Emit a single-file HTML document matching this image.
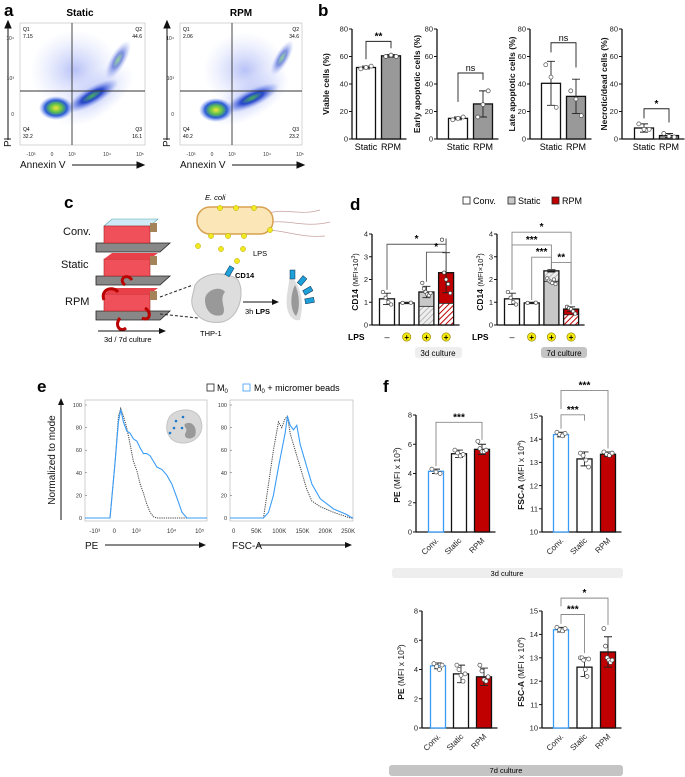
<!DOCTYPE html>
<html><head><meta charset="utf-8">
<style>
html,body{margin:0;padding:0;background:#fff;}
svg{display:block;font-family:"Liberation Sans",Arial,sans-serif;}
.pl{font-weight:bold;font-size:17px;}
.tk{font-size:7.5px;fill:#222;}
.ax{font-size:8.5px;font-weight:bold;fill:#111;}
.lb{font-size:10px;fill:#111;}
</style></head>
<body>
<svg id="fig" width="685" height="777" viewBox="0 0 685 777" xmlns="http://www.w3.org/2000/svg">
<defs>
<pattern id="hatchGray" patternUnits="userSpaceOnUse" width="4" height="4" patternTransform="rotate(45)"><rect width="4" height="4" fill="#eee"/><line x1="0" y1="0" x2="0" y2="4" stroke="#aaa" stroke-width="1.6"/></pattern>
<pattern id="hatchRed" patternUnits="userSpaceOnUse" width="4" height="4" patternTransform="rotate(45)"><rect width="4" height="4" fill="#fff"/><line x1="0" y1="0" x2="0" y2="4" stroke="#c00000" stroke-width="2"/></pattern>
<radialGradient id="blob" cx="50%" cy="50%" r="50%"><stop offset="0" stop-color="#f4e83a"/><stop offset="0.35" stop-color="#5fc24a"/><stop offset="0.65" stop-color="#2a5bd8"/><stop offset="1" stop-color="#6f8cf0" stop-opacity="0"/></radialGradient>
<radialGradient id="band" cx="50%" cy="50%" r="50%"><stop offset="0" stop-color="#49b05a"/><stop offset="0.4" stop-color="#2846cc"/><stop offset="1" stop-color="#8aa0f5" stop-opacity="0"/></radialGradient>
<radialGradient id="cloud" cx="50%" cy="50%" r="50%"><stop offset="0" stop-color="#7d8ff0" stop-opacity="0.55"/><stop offset="1" stop-color="#b8c4fa" stop-opacity="0"/></radialGradient>
</defs>

<!-- panel labels -->
<text class="pl" x="4" y="16">a</text>
<text class="pl" x="318" y="16">b</text>
<text class="pl" x="64" y="208">c</text>
<text class="pl" x="350" y="210">d</text>
<text class="pl" x="37" y="392">e</text>
<text class="pl" x="383" y="392">f</text>

<!-- panel a flow plots -->
<g>
  <text x="80" y="16" text-anchor="middle" style="font-size:10px;font-weight:bold">Static</text>
  <rect x="20" y="23" width="125" height="122" fill="#fff" stroke="#bbb" stroke-width="0.6"/>
  <ellipse cx="75" cy="70" rx="45" ry="40" fill="url(#cloud)"/>
  <ellipse cx="95" cy="95" rx="45" ry="22" fill="url(#cloud)" transform="rotate(-35 95 95)"/>
  <ellipse cx="118" cy="60" rx="22" ry="8" fill="url(#band)" opacity="0.6" transform="rotate(-60 118 60)"/>
  <ellipse cx="92" cy="96" rx="30" ry="9" fill="url(#band)" transform="rotate(-30 92 96)"/>
  <ellipse cx="56" cy="108" rx="17" ry="12" fill="url(#blob)"/>
  <line x1="72" y1="23" x2="72" y2="145" stroke="#333" stroke-width="0.9"/>
  <line x1="20" y1="91" x2="145" y2="91" stroke="#333" stroke-width="0.9"/>
  <text x="23" y="31" style="font-size:5px">Q1</text><text x="23" y="38" style="font-size:5px">7.15</text>
  <text x="142" y="31" text-anchor="end" style="font-size:5px">Q2</text><text x="142" y="38" text-anchor="end" style="font-size:5px">44.6</text>
  <text x="23" y="131" style="font-size:5px">Q4</text><text x="23" y="138" style="font-size:5px">32.2</text>
  <text x="142" y="131" text-anchor="end" style="font-size:5px">Q3</text><text x="142" y="138" text-anchor="end" style="font-size:5px">16.1</text>
</g>
<g>
  <text x="241" y="16" text-anchor="middle" style="font-size:10px;font-weight:bold">RPM</text>
  <rect x="180" y="23" width="122" height="122" fill="#fff" stroke="#bbb" stroke-width="0.6"/>
  <ellipse cx="245" cy="70" rx="42" ry="38" fill="url(#cloud)"/>
  <ellipse cx="250" cy="98" rx="45" ry="20" fill="url(#cloud)" transform="rotate(-30 250 98)"/>
  <ellipse cx="282" cy="58" rx="20" ry="7" fill="url(#band)" opacity="0.6" transform="rotate(-60 282 58)"/>
  <ellipse cx="252" cy="98" rx="30" ry="9" fill="url(#band)" transform="rotate(-25 252 98)"/>
  <ellipse cx="216" cy="110" rx="17" ry="12" fill="url(#blob)"/>
  <line x1="232" y1="23" x2="232" y2="145" stroke="#333" stroke-width="0.9"/>
  <line x1="180" y1="91" x2="302" y2="91" stroke="#333" stroke-width="0.9"/>
  <text x="183" y="31" style="font-size:5px">Q1</text><text x="183" y="38" style="font-size:5px">2.06</text>
  <text x="299" y="31" text-anchor="end" style="font-size:5px">Q2</text><text x="299" y="38" text-anchor="end" style="font-size:5px">34.6</text>
  <text x="183" y="131" style="font-size:5px">Q4</text><text x="183" y="138" style="font-size:5px">40.2</text>
  <text x="299" y="131" text-anchor="end" style="font-size:5px">Q3</text><text x="299" y="138" text-anchor="end" style="font-size:5px">23.2</text>
</g>
<g style="font-size:5px;fill:#333">
  <text x="14" y="40" text-anchor="end">10⁴</text><text x="14" y="80" text-anchor="end">10³</text><text x="14" y="116" text-anchor="end">0</text>
  <text x="174" y="40" text-anchor="end">10⁴</text><text x="174" y="80" text-anchor="end">10³</text><text x="174" y="116" text-anchor="end">0</text>
  <text x="31" y="156" text-anchor="middle">-10³</text><text x="52" y="156" text-anchor="middle">0</text><text x="72" y="156" text-anchor="middle">10³</text><text x="107" y="156" text-anchor="middle">10⁴</text><text x="140" y="156" text-anchor="middle">10⁵</text>
  <text x="191" y="156" text-anchor="middle">-10³</text><text x="212" y="156" text-anchor="middle">0</text><text x="232" y="156" text-anchor="middle">10³</text><text x="267" y="156" text-anchor="middle">10⁴</text><text x="300" y="156" text-anchor="middle">10⁵</text>
</g>
<g stroke="#111" stroke-width="1" fill="#111">
  <line x1="8" y1="140" x2="8" y2="27"/><polygon points="8,21 5,28 11,28"/>
  <line x1="167" y1="140" x2="167" y2="27"/><polygon points="167,21 164,28 170,28"/>
  <line x1="72" y1="165" x2="138" y2="165"/><polygon points="144,165 137,162 137,168"/>
  <line x1="232" y1="165" x2="298" y2="165"/><polygon points="304,165 297,162 297,168"/>
</g>
<text x="11" y="147" transform="rotate(-90 11 147)" class="lb">PI</text>
<text x="170" y="147" transform="rotate(-90 170 147)" class="lb">PI</text>
<text x="20" y="168" class="lb">Annexin V</text>
<text x="180" y="168" class="lb">Annexin V</text>

<!-- panel c illustration -->
<g>
  <text x="63" y="235" class="lb" style="font-size:11px">Conv.</text>
  <text x="61" y="268" class="lb" style="font-size:11px">Static</text>
  <text x="65" y="305" class="lb" style="font-size:11px">RPM</text>
  <polygon points="96,243 170,243 160,252 96,252" fill="#888" stroke="#222" stroke-width="0.8"/>
  <polygon points="104,226 150,226 158,219 112,219" fill="#cfeaf6" stroke="#5aa" stroke-width="0.6"/>
  <rect x="104" y="226" width="46" height="17" fill="#f0505a" stroke="#a22" stroke-width="0.6"/>
  <rect x="150" y="223" width="7" height="9" fill="#a5835a"/>
  <polygon points="96,276 170,276 160,285 96,285" fill="#888" stroke="#222" stroke-width="0.8"/>
  <rect x="104" y="259" width="46" height="17" fill="#f0505a" stroke="#a22" stroke-width="0.6"/>
  <polygon points="104,259 150,259 158,253 112,253" fill="#e84048"/>
  <rect x="150" y="256" width="7" height="9" fill="#a5835a"/>
  <polygon points="96,311 170,311 160,320 96,320" fill="#888" stroke="#222" stroke-width="0.8"/>
  <rect x="104" y="294" width="46" height="17" fill="#f0505a" stroke="#a22" stroke-width="0.6"/>
  <polygon points="104,294 150,294 158,288 112,288" fill="#e84048"/>
  <rect x="150" y="291" width="7" height="9" fill="#a5835a"/>
  <path d="M104,300 C100,290 112,285 118,292 M145,308 C152,312 150,322 142,318 M125,285 C118,280 126,272 132,280 M120,318 C114,325 120,333 126,328" stroke="#b00" stroke-width="3" fill="none"/>
  <line x1="98" y1="331" x2="160" y2="331" stroke="#111"/><polygon points="166,331 159,328 159,334" fill="#111"/>
  <text x="104" y="342" style="font-size:7.5px">3d / 7d culture</text>
  <text x="205" y="200" style="font-size:7.5px;font-style:italic">E. coli</text>
  <path d="M270,213 C285,208 300,216 320,210 M272,222 C290,220 305,228 330,222 M270,230 C290,232 305,238 325,236" stroke="#c9a0a0" stroke-width="0.7" fill="none"/>
  <rect x="197" y="207" width="76" height="27" rx="13" fill="#fbe6b8" stroke="#d8a050" stroke-width="1.5"/>
  <g fill="#f2ea20" stroke="#b8a800" stroke-width="0.5">
    <circle cx="220" cy="208" r="2.6"/><circle cx="236" cy="208" r="2.6"/><circle cx="254" cy="208" r="2.6"/>
    <circle cx="211" cy="236" r="2.6"/><circle cx="228" cy="236" r="2.6"/><circle cx="244" cy="236" r="2.6"/><circle cx="270" cy="230" r="2.6"/>
    <circle cx="198" cy="246" r="2.6"/><circle cx="221" cy="249" r="2.6"/><circle cx="243" cy="249" r="2.6"/><circle cx="237" cy="261" r="2.6"/>
  </g>
  <text x="253" y="256" style="font-size:7.5px">LPS</text>
  <path d="M195,285 C205,270 230,272 238,280 C245,292 240,318 222,322 C200,325 190,310 192,298 Z" fill="#ddd" stroke="#bbb"/>
  <path d="M205,300 C205,290 220,285 225,292 C218,300 228,310 222,315 C212,318 205,310 205,300 Z" fill="#999"/>
  <rect x="227" y="266" width="5" height="10" fill="#1ea0d8" stroke="#135" stroke-width="0.5" transform="rotate(30 229 271)"/>
  <text x="235" y="278" style="font-size:7.5px;font-weight:bold">CD14</text>
  <line x1="160" y1="297" x2="193" y2="285" stroke="#222" stroke-dasharray="3,2"/>
  <line x1="160" y1="314" x2="198" y2="318" stroke="#222" stroke-dasharray="3,2"/>
  <text x="200" y="336" style="font-size:7.5px">THP-1</text>
  <line x1="243" y1="302" x2="272" y2="302" stroke="#111"/><polygon points="279,302 272,299 272,305" fill="#111"/>
  <text x="245" y="314" style="font-size:7.5px">3h <tspan font-weight="bold">LPS</tspan></text>
  <path d="M290,275 C300,285 305,300 300,320 C290,322 285,310 287,295 Z" fill="#ddd"/>
  <path d="M295,285 C300,295 300,310 296,316 C290,310 290,295 295,285 Z" fill="#999"/>
  <g fill="#1ea0d8" stroke="#135" stroke-width="0.5"><rect x="290" y="270" width="5" height="9"/><rect x="300" y="276" width="5" height="9" transform="rotate(40 302 280)"/><rect x="306" y="286" width="5" height="9" transform="rotate(60 308 290)"/><rect x="308" y="296" width="5" height="9" transform="rotate(80 310 300)"/></g>
</g>

<!-- legend d -->
<g style="font-size:9px">
  <rect x="463" y="197" width="7" height="7" fill="#fff" stroke="#222" stroke-width="0.8"/><text x="473" y="204">Conv.</text>
  <rect x="508" y="197" width="7" height="7" fill="#c8c8c8" stroke="#222" stroke-width="0.8"/><text x="518" y="204">Static</text>
  <rect x="552" y="197" width="7" height="7" fill="#c00000" stroke="#222" stroke-width="0.8"/><text x="562" y="204">RPM</text>
</g>
<rect x="415" y="347" width="47" height="11" rx="3" fill="#eee"/>
<text x="438" y="356" text-anchor="middle" style="font-size:8px">3d culture</text>
<rect x="541" y="347" width="46" height="11" rx="3" fill="#c4c4c4"/>
<text x="564" y="356" text-anchor="middle" style="font-size:8px">7d culture</text>

<!-- panel e legend -->
<g style="font-size:9px">
  <rect x="207" y="384" width="7" height="7" fill="#fff" stroke="#222" stroke-width="0.8"/><text x="217" y="391">M<tspan font-size="6" dy="2">0</tspan></text>
  <rect x="243" y="384" width="7" height="7" fill="#fff" stroke="#3a9cf6" stroke-width="0.8"/><text x="254" y="391">M<tspan font-size="6" dy="2">0</tspan><tspan dy="-2"> + micromer beads</tspan></text>
</g>

<!-- panel f culture tags -->
<rect x="392" y="568" width="231" height="10" rx="3" fill="#eee"/>
<text x="507" y="576" text-anchor="middle" style="font-size:7.5px">3d culture</text>
<rect x="389" y="765" width="234" height="11" rx="3" fill="#c4c4c4"/>
<text x="506" y="773" text-anchor="middle" style="font-size:7.5px">7d culture</text>
</svg>

<script>
// ---------- DATA ----------
// panel b
const bCategories = ['Static','RPM'];
const viableMean = [52, 60.5];
const viableSD = [1, 1];
const viablePts = [[51,52,53],[60,61,60]];
const earlyMean = [15, 25.5];
const earlySD = [1, 9.5];
const earlyPts = [[14,15,16],[16,25,35]];
const lateMean = [40.5, 31];
const lateSD = [16, 12.5];
const latePts = [[54,45,23],[35,29,17]];
const necroMean = [8, 2.5];
const necroSD = [3, 1.5];
const necroPts = [[11,7,7],[4,2,1.5]];
const bTicks = [0,20,40,60,80];
// panel d
const dLPS = ['–','+','+','+'];
const d3Mean = [1.15, 0.97, 1.45, 2.3];
const d3Split = [0, 0, 0.82, 0.95];
const d3SD = [0.25, 0.03, 0.25, 0.88];
const d3Pts = [[1.45,1.2,1.0,0.9],[0.97,0.98],[1.85,1.6,1.45,1.35,1.3,1.4],[3.75,2.3,2.0,1.8,1.4]];
const d7Mean = [1.15, 0.97, 2.38, 0.7];
const d7Split = [0, 0, 1.92, 0.45];
const d7SD = [0.25, 0.03, 0.05, 0.1];
const d7Pts = [[1.45,1.2,1.0,0.9],[0.97,0.98],[2.05,1.95,1.9,1.85,2.0,1.8],[0.8,0.75,0.7,0.6,0.5]];
const dTicks = [0,1,2,3,4];
// panel e histograms (channel 0-100 across plot, % of mode)
const peChan  = [0,20.5,24.7,27.4,29.3,31.5,34.2,37,39.7,42.5,45.2,47.9,50.7,53.4,56.2,59,63,67,71.2,75.3,79.5,83.6,100];
const peM0    = [0,0,50,90,97,90,80,65,50,42,30,22,12,5,1,0,0,0,0,0,0,0,0];
const peBeads = [0,0,50,85,96,85,77,75,70,68,62,57,57,55,50,45,43,38,30,18,5,0,0];
const fscChan = [0,27.2,31.3,35.3,39.4,42.1,44.8,46.7,48.9,51.6,54.3,57.1,59.8,62.5,66.6,73.4,84.2,95.1,97.8,100];
const fscM0   = [0,0,30,60,85,80,88,90,75,65,55,45,35,25,15,10,5,1,0,0];
const fscBeads= [0,0,5,20,45,60,75,90,82,78,82,65,55,45,30,17,8,3,1,0];
const peTicks = ['-10³','0','10³','10⁴','10⁵'];
const fscTicks = ['0','50K','100K','150K','200K','250K'];
const histYTicks = [0,20,40,60,80,100];
// panel f
const fCategories = ['Conv.','Static','RPM'];
const fPE3Mean = [4.15, 5.35, 5.65];
const fPE3SD = [0.15, 0.25, 0.35];
const fPE3Pts = [[4.3,4.1,4.0],[5.6,5.4,5.2,5.3],[6.2,5.7,5.5,5.5,5.6]];
const fFSC3Mean = [14.2, 13.15, 13.35];
const fFSC3SD = [0.1, 0.3, 0.1];
const fFSC3Pts = [[14.3,14.2,14.15,14.25],[13.4,13.3,13.1,12.8],[13.45,13.35,13.3,13.4]];
const fPE7Mean = [4.25, 3.7, 3.5];
const fPE7SD = [0.2, 0.6, 0.6];
const fPE7Pts = [[4.4,4.2,4.0,4.3],[4.3,4.0,3.6,3.2,3.7],[4.3,3.9,3.3,3.2,3.5]];
const fFSC7Mean = [14.2, 12.6, 13.25];
const fFSC7SD = [0.1, 0.4, 0.65];
const fFSC7Pts = [[14.3,14.2,14.15,14.25],[13.0,13.0,12.9,12.5,12.2,12.95],[14.25,13.5,13.0,12.9,12.8,12.9]];
const fPETicks = [0,2,4,6,8];
const fFSCTicks = [10,11,12,13,14,15];

// ---------- DRAW ----------
const NS = 'http://www.w3.org/2000/svg';
const svg = document.getElementById('fig');
function mk(tag, a, p){const e=document.createElementNS(NS,tag);for(const k in a)e.setAttribute(k,a[k]);(p||svg).appendChild(e);return e;}

function chart(c){
  const g = mk('g',{});
  
  
  const sy = v => c.y0 - (v - c.vMin)/(c.vMax - c.vMin)*(c.y0 - c.yTop);
  const cx = i => c.axisX + c.off + i*c.step;
  // y axis
  const ax = mk('line',{x1:c.axisX,y1:c.yTop,x2:c.axisX,y2:c.y0+ (c.xAxisDrop||0),stroke:'#111','stroke-width':1.3},g);
  
  
  c.ticks.forEach(t=>{
    mk('line',{x1:c.axisX-3,y1:sy(t),x2:c.axisX,y2:sy(t),stroke:'#111','stroke-width':1},g);
    const tx = mk('text',{x:c.axisX-4,y:sy(t)+2.7,'text-anchor':'end',class:'tk'},g);
    tx.textContent = t;
    
    
  });
  const xa = mk('line',{x1:c.axisX,y1:c.y0,x2:cx(c.means.length-1)+c.barW/2+6,y2:c.y0,stroke:'#111','stroke-width':1.3},g);
  
  
  // bars
  c.means.forEach((m,i)=>{
    const x = cx(i)-c.barW/2;
    const fill = c.fills[i], stroke = c.strokes ? c.strokes[i] : '#111';
    const split = c.split ? c.split[i] : 0;
    if (split > 0) {
      const lowFill = c.splitLow[i], highFill = c.splitHigh[i];
      const r1 = mk('rect',{x:x,y:sy(split),width:c.barW,height:c.y0-sy(split),fill:lowFill},g);
      
      
      mk('rect',{x:x,y:sy(m),width:c.barW,height:sy(split)-sy(m),fill:highFill},g);
      mk('line',{x1:x,y1:sy(split),x2:x+c.barW,y2:sy(split),stroke:'#222','stroke-width':0.8},g);
      const r = mk('rect',{x:x,y:sy(m),width:c.barW,height:c.y0-sy(m),fill:'none',stroke:stroke,'stroke-width':1.3},g);
      
      
    } else {
      const r = mk('rect',{x:x,y:sy(m),width:c.barW,height:c.y0-sy(m),fill:fill,stroke:stroke,'stroke-width':1.3},g);
      
      
    }
    // error bar
    const sd = c.sd[i];
    const eb = mk('path',{d:`M${cx(i)},${sy(m-sd)}V${sy(m+sd)}M${cx(i)-4},${sy(m+sd)}H${cx(i)+4}M${cx(i)-4},${sy(m-sd)}H${cx(i)+4}`,stroke:'#222','stroke-width':0.9,fill:'none'},g);
    
    
    // points
    const pts = c.pts[i], n = pts.length;
    pts.forEach((v,j)=>{
      const off = n>1 ? (j/(n-1)-0.5)*c.barW*0.55 : 0;
      const dark = c.fills[i]==='#c00000' || c.fills[i]==='#999';
      const p = mk('circle',{cx:cx(i)+off,cy:sy(v),r:c.ptR||2,fill:dark?'#fff':'#fff',stroke:dark?'#444':'#555','stroke-width':0.7},g);
      
      
    });
  });
  // x labels
  if (c.cats) c.cats.forEach((t,i)=>{
    let tx;
    if (c.rotate) {
      tx = mk('text',{x:cx(i)+3,y:c.y0+9,'text-anchor':'end',class:'tk',style:'font-size:8px',transform:`rotate(-45 ${cx(i)+3} ${c.y0+9})`},g);
    } else {
      tx = mk('text',{x:cx(i),y:c.y0+11,'text-anchor':'middle',style:'font-size:9px'},g);
    }
    tx.textContent = t;
    
    
  });
  // y title
  const yt = mk('text',{x:c.titleX,y:c.titleY,'text-anchor':'middle',class:'ax',transform:`rotate(-90 ${c.titleX} ${c.titleY})`},g);
  yt.innerHTML = c.title;
  
  
  // significance
  (c.sig||[]).forEach(s=>{
    const x1 = cx(s.a), x2 = cx(s.b);
    const br = mk('path',{d:`M${x1},${sy(s.l1)}V${sy(s.top)}H${x2}V${sy(s.l2)}`,stroke:s.col||'#222','stroke-width':0.9,fill:'none'},g);
    
    
    const st = mk('text',{x:(x1+x2)/2,y:sy(s.top)-2,'text-anchor':'middle',style:'font-size:'+(s.t==='ns'?'9px':'10px')+';font-weight:'+(s.t==='ns'?'normal':'bold')},g);
    st.textContent = s.t;
    
    
  });
  return {sy, cx, g};
}

// panel b
const bBase = {y0:139,yTop:29,vMin:0,vMax:80,ticks:bTicks,barW:19,step:25,cats:bCategories,fills:['#fff','#999'],titleY:84};
chart(Object.assign({},bBase,{name:'chart-viable',axisX:352,off:14,means:viableMean,sd:viableSD,pts:viablePts,titleX:329,title:'Viable cells (%)',sig:[{a:0,b:1,top:71,l1:58,l2:66,t:'**'}]}));
chart(Object.assign({},bBase,{name:'chart-early-apoptotic',axisX:437,off:21,means:earlyMean,sd:earlySD,pts:earlyPts,titleX:420,title:'Early apoptotic cells (%)',sig:[{a:0,b:1,top:48,l1:27,l2:43,t:'ns'}]}));
chart(Object.assign({},bBase,{name:'chart-late-apoptotic',axisX:530,off:21,means:lateMean,sd:lateSD,pts:latePts,titleX:515,title:'Late apoptotic cells (%)',sig:[{a:0,b:1,top:70,l1:63,l2:52,t:'ns'}]}));
chart(Object.assign({},bBase,{name:'chart-necrotic',axisX:622,off:22,means:necroMean,sd:necroSD,pts:necroPts,titleX:607,title:'Necrotic/dead cells (%)',sig:[{a:0,b:1,top:22,l1:15,l2:12,t:'*'}]}));

// panel d
const dBase = {y0:325,yTop:234,vMin:0,vMax:4,ticks:dTicks,barW:15,step:19.7,off:15,ptR:1.7,titleY:282,
  title:'CD14 <tspan style="font-weight:normal;font-size:7.5px">(MFI×10</tspan><tspan style="font-weight:normal;font-size:5px" dy="-3">3</tspan><tspan style="font-weight:normal;font-size:7.5px" dy="3">)</tspan>'};
chart(Object.assign({},dBase,{name:'chart-cd14-3d',axisX:372,means:d3Mean,sd:d3SD,pts:d3Pts,split:d3Split,
  fills:['#fff','#fff','#c8c8c8','#c00000'],splitLow:['','','url(#hatchGray)','url(#hatchRed)'],splitHigh:['','','#c8c8c8','#c00000'],titleX:358,
  sig:[{a:0,b:3,top:3.55,l1:1.55,l2:3.8,t:'*',col:'#555'},{a:2,b:3,top:3.2,l1:1.9,l2:3.8,t:'*',col:'#555'}]}));
chart(Object.assign({},dBase,{name:'chart-cd14-7d',axisX:497,means:d7Mean,sd:d7SD,pts:d7Pts,split:d7Split,
  fills:['#fff','#fff','#c8c8c8','#c00000'],splitLow:['','','#c8c8c8','url(#hatchRed)'],splitHigh:['','','url(#hatchGray)','#c00000'],titleX:483,
  sig:[{a:0,b:3,top:4.08,l1:1.55,l2:0.9,t:'*',col:'#888'},{a:0,b:2,top:3.52,l1:1.55,l2:2.45,t:'***',col:'#888'},{a:1,b:2,top:2.98,l1:1.1,l2:2.45,t:'***',col:'#888'},{a:2,b:3,top:2.75,l1:2.45,l2:0.9,t:'**',col:'#888'}]}));
// LPS rows
[[348,372],[472,497]].forEach(([lx,ax])=>{
  const t = mk('text',{x:lx,y:340,style:'font-size:8.5px;font-weight:bold'});
  t.textContent = 'LPS';
  
  
  dLPS.forEach((s,i)=>{
    const x = ax + 15 + i*19.7;
    if (s === '+') {
      const c = mk('circle',{cx:x,cy:337,r:4.2,fill:'#f5ea10',stroke:'#8a7a00','stroke-width':0.6});
      
      
      const p = mk('text',{x:x,y:339.8,'text-anchor':'middle',style:'font-size:8px;font-weight:bold'});
      p.textContent = '+';
    } else {
      const m = mk('text',{x:x,y:340,'text-anchor':'middle',style:'font-size:9px'});
      m.textContent = s;
      
      
    }
  });
});

// panel e histograms
function hist(name, left, right, top, bottom, chan, m0, beads, ticks, tickPos){
  const g = mk('g',{});
  
  
  const fr = mk('rect',{x:left,y:top-5,width:right-left,height:bottom-top+8,fill:'#fff',stroke:'#bbb','stroke-width':0.7},g);
  
  
  const X = c => left + c/100*(right-left);
  const Y = v => bottom - v/100*(bottom-top);
  histYTicks.forEach(t=>{
    const tx = mk('text',{x:left-3,y:Y(t)+2,'text-anchor':'end',style:'font-size:5.5px;fill:#333'},g);
    tx.textContent = t;
    
    
    mk('line',{x1:left,y1:Y(t),x2:left+2,y2:Y(t),stroke:'#555','stroke-width':0.5},g);
  });
  ticks.forEach((t,i)=>{
    const tx = mk('text',{x:X(tickPos[i]),y:bottom+15,'text-anchor':'middle',style:'font-size:6px;fill:#333'},g);
    tx.textContent = t;
    
    
  });
  const l1 = mk('polyline',{points:chan.map((c,i)=>X(c)+','+Y(m0[i])).join(' '),fill:'none',stroke:'#444','stroke-width':1,'stroke-dasharray':'1.2,1'},g);
  
  
  const l2 = mk('polyline',{points:chan.map((c,i)=>X(c)+','+Y(beads[i])).join(' '),fill:'none',stroke:'#3a9cf6','stroke-width':1.1},g);
  
  
}
const peTickPos = [8,24,42,71,94];
const fscTickPos = [3,21.5,40,59,77.5,96];
hist('histogram-pe',85,207,405,518,peChan,peM0,peBeads,peTicks,peTickPos);
hist('histogram-fsc',230,353,405,518,fscChan,fscM0,fscBeads,fscTicks,fscTickPos);
// cell icon in e
mk('path',{d:'M168,420 C172,408 195,406 200,418 C206,432 196,443 183,443 C170,443 164,432 168,420 Z',fill:'#d8d8d8',stroke:'#c4c4c4'});
mk('path',{d:'M185,424 C192,420 198,428 195,436 C190,441 182,438 186,432 C188,428 183,427 185,424 Z',fill:'#999'});
[[176,421],[183,417],[174,428],[182,428],[170,433]].forEach(([x,y])=>mk('circle',{cx:x,cy:y,r:1.3,fill:'#1e78c8'}));
// e axes titles / arrows
const nt = mk('text',{x:55,y:460,'text-anchor':'middle',class:'lb',transform:'rotate(-90 55 460)'});
nt.textContent = 'Normalized to mode';


mk('line',{x1:61,y1:520,x2:61,y2:404,stroke:'#111'}); mk('polygon',{points:'61,398 58,405 64,405',fill:'#111'});
const pe = mk('text',{x:85,y:549,class:'lb'}); pe.textContent='PE';


mk('line',{x1:105,y1:545,x2:200,y2:545,stroke:'#111'}); mk('polygon',{points:'206,545 199,542 199,548',fill:'#111'});
const fs = mk('text',{x:232,y:549,class:'lb'}); fs.textContent='FSC-A';


mk('line',{x1:258,y1:545,x2:346,y2:545,stroke:'#111'}); mk('polygon',{points:'352,545 345,542 345,548',fill:'#111'});

// panel f
const peTitle = 'PE <tspan style="font-weight:normal">(MFI x 10</tspan><tspan style="font-weight:normal;font-size:5.5px" dy="-3">3</tspan><tspan style="font-weight:normal" dy="3">)</tspan>';
const fscTitle = 'FSC-A <tspan style="font-weight:normal">(MFI x 10</tspan><tspan style="font-weight:normal;font-size:5.5px" dy="-3">4</tspan><tspan style="font-weight:normal" dy="3">)</tspan>';
const fBase = {barW:15,step:23,ptR:2,cats:fCategories,rotate:true,fills:['#fff','#fff','#c00000'],strokes:['#3a9cf6','#111','#111']};
chart(Object.assign({},fBase,{name:'chart-pe-3d',axisX:416,off:20,y0:532,yTop:415,vMin:0,vMax:8,ticks:fPETicks,means:fPE3Mean,sd:fPE3SD,pts:fPE3Pts,titleX:400,titleY:475,title:peTitle,
  sig:[{a:0,b:2,top:7.5,l1:4.5,l2:6.3,t:'***',col:'#888'}]}));
chart(Object.assign({},fBase,{name:'chart-fsc-3d',axisX:542,off:19,step:23.5,y0:532,yTop:416,vMin:10,vMax:15,ticks:fFSC3Ticks=fFSCTicks,means:fFSC3Mean,sd:fFSC3SD,pts:fFSC3Pts,titleX:524,titleY:475,title:fscTitle,
  sig:[{a:0,b:1,top:15.05,l1:14.45,l2:14.8,t:'***',col:'#888'},{a:0,b:2,top:16.1,l1:15.3,l2:13.6,t:'***',col:'#888'}]}));
chart(Object.assign({},fBase,{name:'chart-pe-7d',axisX:422,off:16,y0:728,yTop:611,vMin:0,vMax:8,ticks:fPETicks,means:fPE7Mean,sd:fPE7SD,pts:fPE7Pts,titleX:404,titleY:672,title:peTitle}));
chart(Object.assign({},fBase,{name:'chart-fsc-7d',axisX:542,off:19,step:23.5,y0:728,yTop:611,vMin:10,vMax:15,ticks:fFSCTicks,means:fFSC7Mean,sd:fFSC7SD,pts:fFSC7Pts,titleX:524,titleY:672,title:fscTitle,
  sig:[{a:0,b:1,top:14.85,l1:14.45,l2:13.2,t:'***',col:'#888'},{a:0,b:2,top:15.55,l1:15.2,l2:14.4,t:'*',col:'#888'}]}));
var fFSC3Ticks;
</script>
</body></html>
